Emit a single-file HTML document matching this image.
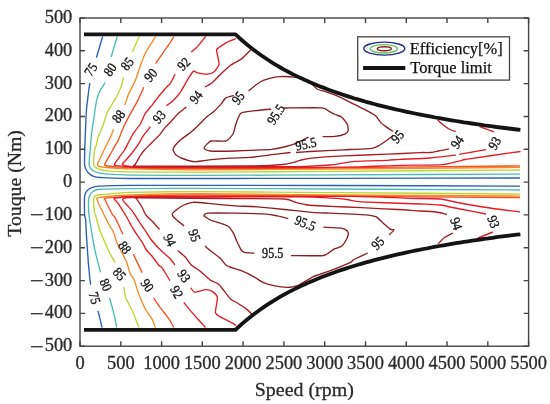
<!DOCTYPE html>
<html><head><meta charset="utf-8"><style>
html,body{margin:0;padding:0;background:#fff;}
svg{display:block;}
text{font-family:"Liberation Serif","DejaVu Serif",serif;}
</style></head><body>
<svg width="550" height="404" viewBox="0 0 550 404">
<rect x="0" y="0" width="550" height="404" fill="#fff"/>

<g fill="none" stroke-width="1.35" stroke-linejoin="round" stroke-linecap="butt">
<path stroke="#2b5fb5" d="M102.6,36.5 L96.4,57.8"/>
<path stroke="#2b5fb5" d="M89.8,83.2C89.6,84.4 88.5,92.2 88.2,94.8C87.9,97.4 86.8,106.4 86.5,109.5C86.2,112.6 85.9,122.4 85.7,125.9C85.5,129.5 85.0,141.2 84.9,145.0C84.8,148.8 84.4,161.3 84.5,163.6C84.6,165.9 85.1,167.3 85.5,168.2C85.9,169.1 87.4,171.9 88.2,172.7C89.0,173.5 92.4,175.9 93.6,176.4C94.8,176.9 96.4,177.3 100.0,177.5C103.6,177.7 107.0,178.4 130.0,178.5C153.0,178.6 291.0,178.4 330.0,178.3C369.0,178.2 501.0,178.0 520.0,178.0"/>
<path stroke="#4cbdb3" d="M117.3,36.5 L111.1,57.0"/>
<path stroke="#4cbdb3" d="M104.9,82.4C104.8,82.7 104.2,84.1 103.7,85.0C103.2,85.9 100.3,89.9 99.6,91.5C98.9,93.1 97.0,98.8 96.4,101.4C95.8,104.0 94.4,114.4 93.9,117.7C93.4,121.0 91.8,131.4 91.5,134.1C91.2,136.8 90.8,142.1 90.6,145.0C90.4,147.9 89.2,161.4 89.1,163.6C89.0,165.8 89.6,166.6 90.0,167.3C90.4,168.0 91.9,170.0 92.7,170.5C93.5,171.0 96.7,172.3 98.2,172.7C99.7,173.1 104.1,174.0 107.3,174.2C110.5,174.4 120.7,175.0 130.0,175.1C139.3,175.2 180.0,175.4 200.0,175.4C220.0,175.4 298.0,175.0 330.0,174.9C362.0,174.8 501.0,174.2 520.0,174.1"/>
<path stroke="#bdd62b" d="M139.2,36.5 L132.4,52.1"/>
<path stroke="#bdd62b" d="M123.4,77.5C123.2,78.2 122.3,83.3 121.7,85.0C121.1,86.7 118.5,93.0 117.6,94.8C116.7,96.6 113.8,101.2 112.7,103.0C111.6,104.8 108.0,110.5 107.0,112.8C106.0,115.1 103.8,123.4 102.9,125.9C102.0,128.4 98.7,135.5 98.0,137.4C97.3,139.3 96.8,143.7 96.4,145.0C96.1,146.3 94.8,148.1 94.5,150.0C94.2,151.9 93.6,162.0 93.6,163.6C93.6,165.2 93.7,165.4 94.1,165.9C94.5,166.4 96.0,168.1 97.3,168.6C98.6,169.1 104.0,170.5 107.3,170.8C110.6,171.1 120.7,171.8 130.0,171.9C139.3,172.0 180.0,172.2 200.0,172.1C220.0,172.0 298.0,171.6 330.0,171.4C362.0,171.2 501.0,170.1 520.0,170.0"/>
<path stroke="#f58a27" d="M155.6,36.5C154.7,38.0 147.7,48.7 146.3,51.3C144.9,53.9 142.4,60.1 141.4,62.7C140.4,65.3 137.3,75.3 136.5,77.5C135.7,79.7 134.0,83.3 133.2,85.0C132.4,86.7 129.2,92.8 128.3,94.8C127.5,96.8 125.1,104.0 124.7,105.0"/>
<path stroke="#f58a27" d="M113.6,129.2C113.3,130.0 111.0,135.9 110.3,137.4C109.6,138.9 107.6,142.7 107.0,144.0C106.4,145.3 105.0,148.0 104.1,150.0C103.2,152.0 98.3,162.0 97.7,163.6C97.1,165.2 97.4,165.5 98.2,165.9C99.0,166.3 102.3,167.2 105.5,167.5C108.7,167.8 120.5,168.6 130.0,168.8C139.4,169.0 180.0,169.8 200.0,169.8C220.0,169.8 298.0,169.2 330.0,169.0C362.0,168.8 501.0,167.6 520.0,167.4"/>
<path stroke="#f3511f" d="M174.0,36.5C173.6,37.1 170.9,41.6 170.0,43.0C169.1,44.4 166.4,47.9 165.0,50.0C163.6,52.1 156.5,62.2 155.6,63.6"/>
<path stroke="#f3511f" d="M143.8,87.3C143.2,88.7 138.8,98.5 137.3,101.4C135.8,104.3 130.6,113.3 129.1,116.1C127.6,118.9 123.7,126.8 122.6,129.2C121.5,131.6 119.4,137.9 118.4,140.0C117.4,142.1 114.0,147.6 112.7,150.0C111.4,152.4 105.7,162.0 105.0,163.6C104.3,165.2 104.4,165.2 105.5,165.5C106.6,165.8 113.0,166.7 116.4,166.9C119.9,167.2 131.6,167.8 140.0,168.0C148.4,168.2 181.0,168.6 200.0,168.6C219.0,168.6 298.0,168.1 330.0,167.8C362.0,167.5 501.0,166.1 520.0,165.9"/>
<path stroke="#e81b26" d="M205.6,36.5C204.8,37.5 199.1,44.8 197.7,46.4C196.3,48.0 191.8,51.5 191.2,52.1"/>
<path stroke="#e81b26" d="M175.1,74.2C174.6,75.2 170.7,82.8 169.9,84.0C169.2,85.2 168.7,84.8 167.6,86.0C166.5,87.2 159.8,95.1 158.6,96.5C157.4,97.9 156.6,99.1 155.9,100.0C155.2,100.9 153.1,103.8 152.1,105.1C151.1,106.4 146.6,111.4 145.7,112.7C144.8,114.0 143.7,116.7 143.2,117.8C142.7,118.9 141.4,122.2 140.6,123.5C139.8,124.8 136.3,129.3 135.5,130.5C134.7,131.7 133.0,133.9 132.4,135.0C131.8,136.1 130.0,139.5 129.2,141.0C128.4,142.5 126.0,147.7 124.5,150.0C123.0,152.3 115.3,162.5 114.5,164.1C113.7,165.7 114.9,165.3 116.4,165.6C118.0,165.8 127.6,166.4 130.0,166.6C132.4,166.8 123.0,167.2 140.0,167.3C157.0,167.4 278.0,167.7 300.0,167.6C322.0,167.5 350.0,167.0 360.0,166.8C370.0,166.6 391.7,165.5 400.0,165.3C408.3,165.1 436.1,165.2 442.6,164.6C449.1,164.0 462.1,160.1 464.9,159.5C467.7,158.9 466.4,159.3 470.9,158.6C475.4,157.9 505.0,153.6 510.0,152.9C515.0,152.2 519.5,151.6 520.5,151.5"/>
<path stroke="#e21b24" d="M236.2,38.5C235.1,39.0 227.6,42.0 225.6,43.1C223.6,44.2 217.4,48.5 216.6,49.6C215.8,50.7 217.2,53.0 217.4,54.5C217.6,56.0 219.3,62.7 219.0,64.4C218.7,66.1 215.2,70.7 214.1,71.7C213.0,72.7 209.2,74.1 207.6,74.2C206.0,74.3 199.1,73.2 197.7,72.9C196.3,72.6 194.6,70.6 193.6,71.2C192.6,71.8 188.8,77.7 187.9,79.1C187.0,80.5 185.4,83.6 184.6,85.0C183.8,86.4 180.8,91.7 179.7,93.2C178.6,94.8 174.5,99.2 173.2,100.5C171.9,101.8 167.1,105.3 166.4,105.8"/>
<path stroke="#e21b24" d="M150.4,126.7C149.6,127.8 143.3,135.7 142.2,137.4C141.1,139.1 140.2,141.5 139.0,143.3C137.8,145.1 131.6,153.5 130.0,155.5C128.4,157.5 123.3,162.6 122.7,163.6C122.1,164.6 121.9,164.9 123.6,165.2C125.3,165.5 122.4,166.7 140.0,166.8C157.6,166.9 280.7,166.8 300.0,166.6C319.3,166.4 327.3,165.2 332.8,164.7C338.3,164.2 349.2,161.8 354.6,161.4C360.1,161.0 382.8,160.5 387.3,160.3C391.8,160.1 395.7,159.5 400.0,159.3C404.3,159.1 424.4,158.4 430.0,158.0C435.6,157.6 453.4,155.4 456.0,155.1"/>
<path stroke="#e21b24" d="M459.1,154.4 L486.0,149.6"/>
<path stroke="#e21b24" d="M494.0,131.8 L479.5,126.7"/>
<path stroke="#ae1c23" d="M251.0,49.5C250.1,50.4 244.0,57.0 241.9,58.6C239.8,60.2 232.5,63.7 230.5,65.2C228.5,66.7 223.3,71.7 221.5,73.4C219.7,75.1 214.1,81.0 212.5,82.4C210.9,83.8 205.8,86.5 205.1,87.0"/>
<path stroke="#ae1c23" d="M186.3,107.1C185.5,107.8 179.6,112.2 178.1,113.6C176.6,115.0 172.8,119.6 171.5,121.0C170.2,122.4 166.1,126.3 165.0,127.6C163.9,128.9 161.6,132.5 160.2,134.1C158.8,135.7 152.6,141.9 151.0,143.5C149.4,145.1 145.6,148.8 144.5,150.0C143.4,151.2 140.7,154.9 140.0,156.0C139.3,157.1 137.8,160.1 137.3,160.9C136.9,161.8 135.2,164.0 135.5,164.5C135.8,165.0 128.6,166.0 140.0,166.2C151.4,166.3 235.7,166.2 250.0,166.0C264.3,165.8 278.3,164.9 282.7,164.5C287.1,164.1 291.9,162.8 293.6,162.4C295.3,162.0 298.3,160.7 300.0,160.3C301.7,159.9 306.5,158.5 310.9,158.1C315.3,157.7 336.1,156.3 343.7,155.9C351.3,155.5 379.7,154.5 387.3,154.2C394.9,153.9 415.7,152.8 420.0,152.6C424.3,152.4 428.1,152.7 430.0,152.5C431.9,152.3 436.8,151.3 438.7,151.0C440.6,150.7 447.9,149.2 448.9,149.0"/>
<path stroke="#ae1c23" d="M455.7,131.5C455.1,131.3 451.0,130.0 450.0,129.5C449.0,129.0 446.4,127.4 445.6,126.8C444.8,126.2 442.6,124.5 441.8,123.8C441.0,123.1 438.1,120.4 437.7,120.0"/>
<path stroke="#8d1e23" d="M248.6,90.9C249.0,90.5 252.0,88.1 253.0,87.3C254.0,86.5 257.1,83.9 258.2,83.2C259.3,82.5 262.9,80.7 264.0,80.2C265.1,79.7 268.1,78.7 269.6,78.3C271.2,77.9 277.0,76.7 279.5,76.6C282.0,76.5 291.8,76.8 294.2,77.1C296.6,77.3 302.2,78.4 304.0,79.1C305.8,79.8 310.9,83.5 312.3,84.5C313.7,85.5 316.6,88.8 318.0,89.5C319.4,90.2 324.1,91.2 326.2,91.9C328.3,92.6 336.5,95.6 339.3,96.8C342.1,98.0 351.1,102.7 354.0,104.2C356.9,105.7 366.5,110.4 368.7,111.6C370.9,112.8 374.7,115.0 375.9,116.1C377.1,117.2 379.7,121.4 380.8,122.6C381.9,123.8 386.2,126.7 387.4,127.6C388.6,128.5 392.4,131.1 393.0,131.5"/>
<path stroke="#8d1e23" d="M393.5,135.3C392.9,135.7 389.4,138.5 388.0,139.5C386.6,140.5 381.6,144.1 380.0,145.0C378.4,145.9 375.6,147.8 372.0,148.3C368.4,148.8 349.9,149.5 343.7,149.8C337.5,150.1 314.8,151.2 310.0,151.5C305.2,151.8 297.4,152.4 296.0,152.5"/>
<path stroke="#8d1e23" d="M290.5,152.5C288.6,152.7 275.9,154.2 271.8,154.7C267.8,155.2 254.2,157.1 250.0,157.4C245.8,157.8 234.4,157.9 230.0,158.2C225.6,158.5 209.5,159.9 206.0,160.3C202.5,160.7 197.2,161.9 195.0,161.8C192.8,161.7 185.9,159.7 184.0,159.0C182.1,158.3 177.1,155.9 176.0,155.0C174.9,154.1 173.1,150.5 173.0,149.5C172.9,148.5 174.7,146.0 175.5,145.0C176.3,144.0 179.6,140.7 181.0,139.5C182.4,138.3 187.8,134.7 189.5,133.3C191.2,131.9 196.1,127.5 197.7,125.9C199.3,124.3 204.3,119.2 205.9,117.7C207.5,116.2 212.6,112.5 214.1,111.2C215.6,109.9 219.4,105.9 220.6,104.6C221.8,103.3 224.3,99.0 225.6,98.1C226.9,97.2 233.1,95.8 233.9,95.6"/>
<path stroke="#8a1e23" d="M284.1,108.0C287.9,108.0 317.6,107.6 322.0,107.9C326.4,108.2 327.3,110.5 328.6,111.2C329.9,111.9 333.7,113.9 335.0,114.5C336.3,115.1 340.3,115.9 341.5,116.9C342.7,117.9 346.6,122.9 347.3,124.3C348.0,125.7 348.4,129.8 348.1,130.8C347.9,131.8 346.1,133.5 344.8,134.1C343.5,134.7 337.2,136.1 335.0,136.3C332.8,136.6 323.9,136.6 322.7,136.6"/>
<path stroke="#8a1e23" d="M308.6,137.1C307.2,137.8 297.0,142.9 294.7,143.8C292.4,144.7 288.3,145.9 286.0,146.5C283.7,147.1 275.4,148.9 271.8,149.3C268.2,149.7 253.7,150.2 250.0,150.4C246.3,150.6 239.0,150.9 235.0,151.0C231.0,151.1 213.1,151.3 210.0,151.0C206.9,150.7 203.9,149.0 204.0,148.0C204.1,147.0 208.8,141.7 211.0,141.0C213.2,140.3 223.8,141.7 226.0,141.0C228.2,140.3 232.0,135.6 233.0,134.0C234.0,132.4 235.0,126.8 235.6,125.0C236.2,123.2 238.5,117.0 239.2,115.7C239.9,114.4 240.0,113.0 242.7,112.4C245.4,111.8 263.2,109.8 266.0,109.5C268.8,109.2 270.6,109.2 271.1,109.2"/>
<path stroke="#2b5fb5" d="M520.0,186.1C501.0,186.0 369.0,185.6 330.0,185.5C291.0,185.4 153.2,185.3 130.0,185.4C106.8,185.5 102.0,186.0 98.2,186.2C94.4,186.4 92.9,187.3 91.8,187.7C90.7,188.1 88.0,189.8 87.3,190.5C86.6,191.2 85.3,193.6 85.0,194.5C84.7,195.4 84.4,197.9 84.4,200.0C84.4,202.1 84.5,213.0 84.6,215.0C84.7,217.0 85.5,217.9 85.7,220.0C85.9,222.1 86.2,232.3 86.5,236.4C86.8,240.5 87.9,257.0 88.2,260.9C88.5,264.8 89.3,272.6 89.5,275.0C89.7,277.4 90.5,283.7 90.6,284.7"/>
<path stroke="#2b5fb5" d="M98.0,310.9 L102.1,327.5"/>
<path stroke="#4cbdb3" d="M520.0,190.0C501.0,189.9 362.0,189.2 330.0,189.0C298.0,188.8 220.0,188.4 200.0,188.4C180.0,188.4 140.2,188.5 130.0,188.6C119.8,188.7 101.9,189.2 98.2,189.5C94.5,189.8 93.6,191.2 92.7,191.8C91.8,192.4 89.9,195.1 89.5,195.9C89.1,196.7 88.7,198.2 88.6,200.0C88.5,201.8 88.6,210.9 88.8,213.4C89.0,215.9 90.2,222.7 90.6,225.0C90.9,227.3 91.8,233.6 92.3,236.4C92.8,239.2 94.7,249.1 95.5,252.7C96.3,256.3 100.0,270.4 100.5,272.4"/>
<path stroke="#4cbdb3" d="M109.5,297.8C109.9,299.3 112.9,309.6 113.6,312.6C114.3,315.6 116.5,326.0 116.8,327.5"/>
<path stroke="#bdd62b" d="M520.0,194.1C501.0,193.9 362.0,192.8 330.0,192.6C298.0,192.3 220.0,191.6 200.0,191.6C180.0,191.6 140.2,192.0 130.0,192.3C119.8,192.6 101.8,194.6 98.2,195.0C94.7,195.4 95.0,196.4 94.5,196.8C94.0,197.2 93.7,198.5 93.6,199.1C93.5,199.7 93.5,201.4 93.6,202.7C93.7,204.0 94.2,210.4 94.5,212.0C94.8,213.6 96.2,217.2 96.7,219.0C97.2,220.8 98.8,227.6 99.6,229.8C100.4,232.0 103.5,239.0 104.5,241.3C105.5,243.6 108.4,250.6 109.5,252.7C110.6,254.8 114.6,261.6 115.2,262.6"/>
<path stroke="#bdd62b" d="M123.9,287.2C124.1,288.3 125.0,295.4 125.8,297.8C126.6,300.2 131.1,307.9 132.4,310.9C133.7,313.9 138.2,325.8 138.9,327.5"/>
<path stroke="#f58a27" d="M520.0,196.1C501.0,196.0 362.0,195.2 330.0,195.0C298.0,194.8 220.0,193.6 200.0,193.6C180.0,193.6 140.2,194.6 130.0,195.0C119.8,195.4 101.5,197.2 98.2,197.7C94.9,198.1 97.3,199.0 97.3,199.5C97.3,200.0 97.7,201.5 98.2,202.7C98.7,203.8 101.7,209.8 102.3,211.0C102.9,212.2 103.5,213.9 104.1,215.0C104.6,216.1 107.3,221.3 107.8,222.3C108.3,223.3 108.7,224.0 109.3,225.0C109.9,226.0 112.9,230.7 113.6,232.4C114.3,234.1 116.1,240.7 116.7,242.3C117.3,243.9 119.2,247.3 119.8,248.5C120.4,249.7 122.2,253.3 122.9,254.7C123.6,256.1 125.9,260.2 126.6,262.1C127.3,264.0 129.6,272.2 130.3,273.9C131.0,275.6 133.1,277.4 134.0,279.5C134.9,281.6 137.8,291.5 138.9,294.5C140.1,297.5 144.2,306.8 145.5,309.3C146.8,311.8 151.0,317.3 152.0,319.1C153.0,320.9 155.0,326.7 155.3,327.5"/>
<path stroke="#f3511f" d="M520.0,197.6C501.0,197.5 362.0,196.5 330.0,196.2C298.0,195.9 220.0,195.0 200.0,195.0C180.0,195.0 139.4,196.0 130.0,196.3C120.5,196.6 108.0,197.9 105.5,198.2C103.0,198.5 104.8,198.9 105.0,199.5C105.2,200.1 106.5,202.9 107.3,204.5C108.1,206.1 112.0,213.8 112.7,215.0C113.4,216.2 113.9,215.7 114.5,216.7C115.1,217.7 117.8,223.2 118.6,225.0C119.4,226.8 122.5,233.4 122.9,234.3"/>
<path stroke="#f3511f" d="M133.4,254.1 L142.1,272.6"/>
<path stroke="#f3511f" d="M153.6,297.8C154.3,298.8 158.9,305.8 160.2,307.6C161.5,309.4 165.7,314.5 166.7,315.8C167.7,317.1 169.3,319.5 170.0,320.7C170.7,321.9 173.5,326.8 173.9,327.5"/>
<path stroke="#e81b26" d="M520.0,212.0C517.0,211.6 496.0,208.9 490.0,208.0C484.0,207.1 465.0,203.9 460.0,203.0C455.0,202.1 445.0,199.5 440.0,199.0C435.0,198.5 419.0,198.6 410.0,198.3C401.0,198.0 377.0,196.6 350.0,196.4C323.0,196.2 163.0,196.4 140.0,196.5C117.0,196.6 122.5,197.3 120.0,197.5C117.5,197.7 115.0,198.0 114.5,198.2C114.0,198.4 114.1,199.0 114.5,199.5C114.9,200.0 117.1,202.0 118.2,203.6C119.3,205.2 124.4,213.2 125.5,215.0C126.6,216.8 128.4,220.1 129.0,221.2C129.6,222.3 130.8,224.9 131.5,226.0C132.2,227.1 134.4,230.9 135.5,232.5C136.6,234.1 141.2,240.6 142.3,242.3C143.4,244.0 145.1,248.2 146.0,249.5C146.9,250.8 150.2,253.9 151.5,255.5C152.8,257.1 157.6,263.8 158.6,265.0C159.6,266.2 161.1,266.6 161.8,267.5C162.5,268.4 165.2,272.7 166.0,274.0C166.8,275.3 169.5,280.0 169.9,280.7"/>
<path stroke="#e81b26" d="M183.8,302.5C184.8,303.7 191.5,311.9 193.7,314.4C195.9,316.9 204.3,326.2 205.5,327.5"/>
<path stroke="#e21b24" d="M486.0,214.0C483.4,213.5 464.6,209.9 460.0,209.0C455.4,208.1 444.0,205.5 440.0,205.0C436.0,204.5 427.9,204.3 420.0,204.0C412.1,203.7 368.7,202.3 361.4,201.9C354.1,201.5 350.4,199.9 346.8,199.5C343.2,199.1 329.7,198.0 325.0,197.7C320.3,197.4 318.5,196.9 300.0,196.8C281.5,196.8 157.5,197.1 140.0,197.2C122.5,197.3 126.7,198.0 125.0,198.2C123.3,198.4 122.8,198.8 122.7,199.1C122.6,199.4 123.0,200.7 123.6,201.4C124.1,202.1 127.3,205.4 128.2,206.4C129.1,207.4 131.6,210.3 132.3,211.2C133.0,212.1 134.3,214.0 135.0,215.0C135.7,216.0 138.1,220.1 139.0,221.5C139.9,222.9 143.3,227.7 144.5,229.5C145.7,231.3 149.6,237.6 151.0,239.5C152.4,241.4 157.5,246.9 159.0,248.5C160.5,250.1 164.9,254.0 166.0,255.0C167.1,256.0 169.1,257.5 170.0,258.5C170.9,259.5 174.4,264.3 174.9,264.9"/>
<path stroke="#e21b24" d="M190.7,287.7C191.1,288.1 193.2,292.0 194.7,292.2C196.2,292.4 203.7,289.8 205.5,289.7C207.3,289.6 211.3,290.8 212.5,291.6C213.7,292.4 217.1,295.5 217.4,297.6C217.7,299.7 215.2,310.5 215.4,312.4C215.6,314.3 218.0,315.5 219.4,316.4C220.8,317.3 227.6,320.4 229.3,321.3C231.0,322.2 235.5,324.9 236.2,325.3"/>
<path stroke="#e21b24" d="M493.0,232.0 L478.0,238.0"/>
<path stroke="#ae1c23" d="M447.0,214.4C445.9,214.2 438.7,212.3 436.0,212.0C433.3,211.7 423.8,211.2 420.0,211.0C416.2,210.8 403.6,209.8 397.7,209.5C391.8,209.2 368.2,208.0 361.4,207.7C354.6,207.4 335.3,206.6 330.0,206.3C324.7,206.0 311.6,205.4 308.2,205.0C304.8,204.6 297.9,202.9 295.5,202.3C293.1,201.7 291.1,199.4 284.5,199.0C277.9,198.6 244.4,198.7 230.0,198.6C215.6,198.5 149.3,197.9 140.0,197.9C130.7,197.9 136.5,197.7 136.5,198.3C136.5,198.9 139.4,203.0 140.0,203.9C140.6,204.8 141.7,206.6 142.3,207.7C142.9,208.8 144.8,213.5 145.9,215.0C147.0,216.5 151.8,220.9 153.2,222.3C154.6,223.8 158.9,228.8 159.5,229.5"/>
<path stroke="#ae1c23" d="M177.7,250.5C178.4,251.1 183.6,255.4 185.0,256.8C186.4,258.2 189.9,263.6 191.4,265.0C192.9,266.4 197.7,269.3 199.6,270.8C201.5,272.3 208.3,278.6 210.2,280.0C212.1,281.4 217.5,283.2 218.9,284.4C220.3,285.6 223.5,290.2 224.7,291.6C225.9,293.1 229.2,297.7 230.5,298.9C231.8,300.1 236.2,302.3 237.8,303.3C239.4,304.3 245.0,307.9 246.5,309.1C248.0,310.3 252.2,314.4 252.8,315.0"/>
<path stroke="#ae1c23" d="M453.0,233.0C452.1,233.5 445.5,236.9 444.0,238.0C442.5,239.1 438.6,243.4 438.0,244.0"/>
<path stroke="#8d1e23" d="M184.1,225.9C183.2,225.2 176.2,219.8 175.0,218.6C173.8,217.4 172.1,215.0 172.3,214.1C172.5,213.2 175.6,210.4 176.8,209.5C178.0,208.6 182.5,205.7 184.1,205.0C185.7,204.3 190.5,202.4 193.2,202.3C195.9,202.2 207.2,203.3 211.4,203.7C215.6,204.1 230.4,205.6 235.0,205.9C239.6,206.2 252.4,206.4 257.3,206.8C262.2,207.2 279.1,208.9 284.5,209.5C289.9,210.1 307.2,211.9 311.8,212.3C316.4,212.7 325.9,213.0 330.0,213.2C334.1,213.4 348.7,213.9 352.3,214.1C355.9,214.3 363.9,214.5 366.3,214.8C368.7,215.1 374.2,215.8 375.9,216.7C377.6,217.6 382.1,222.2 383.5,223.4C384.9,224.6 389.1,228.4 390.2,229.1C391.2,229.8 394.1,229.4 394.0,230.0C393.9,230.6 389.7,234.3 389.2,234.8"/>
<path stroke="#8d1e23" d="M367.7,253.2C366.3,253.8 355.9,258.6 354.1,259.5C352.3,260.4 352.6,261.4 350.0,262.6C347.4,263.8 332.0,270.0 328.3,271.4C324.6,272.8 316.1,275.4 313.0,276.8C309.9,278.2 300.3,284.6 297.7,285.6C295.1,286.7 289.2,287.3 286.8,287.3C284.4,287.3 276.1,286.1 273.7,285.6C271.3,285.1 264.8,283.2 262.8,282.3C260.8,281.4 256.0,277.9 254.0,276.8C252.0,275.7 245.5,272.4 243.1,271.4C240.7,270.4 231.7,267.6 230.0,267.0C228.3,266.4 226.8,265.8 225.9,265.0C225.0,264.2 221.9,260.0 220.5,258.6C219.1,257.2 213.0,252.7 211.4,251.4C209.8,250.1 205.6,246.5 205.0,245.9"/>
<path stroke="#8a1e23" d="M288.2,218.6C287.1,218.3 279.5,216.3 277.3,215.9C275.1,215.5 270.6,214.4 266.4,214.1C262.2,213.8 240.9,213.3 235.0,213.2C229.1,213.1 210.8,212.9 207.7,213.2C204.6,213.5 203.7,215.2 204.1,215.9C204.5,216.6 209.8,219.8 211.4,220.5C213.0,221.2 218.8,222.6 220.5,223.2C222.2,223.8 227.2,225.5 228.5,226.5C229.8,227.5 232.5,231.6 233.4,233.2C234.3,234.8 236.6,240.7 237.3,242.3C238.1,243.9 240.2,248.5 240.9,249.5C241.6,250.5 243.1,251.9 244.5,252.3C245.9,252.7 253.5,253.1 254.5,253.2"/>
<path stroke="#8a1e23" d="M290.9,255.6C294.1,255.6 319.1,256.1 323.4,255.5C327.7,254.8 332.1,250.0 333.9,249.1C335.7,248.2 340.4,247.1 341.5,246.3C342.6,245.5 344.6,242.7 345.3,241.5C346.0,240.3 348.0,235.9 348.2,234.8C348.4,233.8 348.0,231.7 347.3,231.0C346.6,230.3 343.9,228.5 341.5,228.1C339.1,227.7 325.2,227.3 323.4,227.2"/>
</g>
<g font-size="12.6" fill="#111" stroke="#111" stroke-width="0.3" text-anchor="middle">
<text transform="translate(90.7,69.5) rotate(-57) scale(0.96,1.1)" y="4.26">75</text>
<text transform="translate(110.0,69.6) rotate(-54) scale(0.96,1.1)" y="4.26">80</text>
<text transform="translate(127.1,63.9) rotate(-51) scale(0.96,1.1)" y="4.26">85</text>
<text transform="translate(150.6,75.0) rotate(-50) scale(0.96,1.1)" y="4.26">90</text>
<text transform="translate(183.6,63.9) rotate(-45) scale(0.96,1.1)" y="4.26">92</text>
<text transform="translate(118.4,116.3) rotate(-53) scale(0.96,1.1)" y="4.26">88</text>
<text transform="translate(159.1,116.8) rotate(-47) scale(0.96,1.1)" y="4.26">93</text>
<text transform="translate(195.9,97.2) rotate(-53) scale(0.96,1.1)" y="4.26">94</text>
<text transform="translate(238.1,97.9) rotate(-53) scale(0.96,1.1)" y="4.26">95</text>
<text transform="translate(275.9,114.4) rotate(-57) scale(0.96,1.1)" y="4.26">95.5</text>
<text transform="translate(305.9,143.9) rotate(-12) scale(0.96,1.1)" y="4.26">95.5</text>
<text transform="translate(397.5,136.7) rotate(-49) scale(0.96,1.1)" y="4.26">95</text>
<text transform="translate(457.2,142.0) rotate(-55) scale(0.96,1.1)" y="4.26">94</text>
<text transform="translate(494.6,143.1) rotate(-59) scale(0.96,1.1)" y="4.26">93</text>
<text transform="translate(94.7,297.9) rotate(74) scale(0.96,1.1)" y="4.26">75</text>
<text transform="translate(105.9,284.9) rotate(66) scale(0.96,1.1)" y="4.26">80</text>
<text transform="translate(119.6,274.0) rotate(49) scale(0.96,1.1)" y="4.26">85</text>
<text transform="translate(124.9,247.4) rotate(55) scale(0.96,1.1)" y="4.26">88</text>
<text transform="translate(147.4,285.2) rotate(55) scale(0.96,1.1)" y="4.26">90</text>
<text transform="translate(176.9,292.0) rotate(61) scale(0.96,1.1)" y="4.26">92</text>
<text transform="translate(184.1,275.9) rotate(56) scale(0.96,1.1)" y="4.26">93</text>
<text transform="translate(169.9,240.0) rotate(64) scale(0.96,1.1)" y="4.26">94</text>
<text transform="translate(194.6,235.5) rotate(71) scale(0.96,1.1)" y="4.26">95</text>
<text transform="translate(305.3,223.0) rotate(22) scale(0.96,1.1)" y="4.26">95.5</text>
<text transform="translate(272.7,253.8) rotate(0) scale(0.96,1.1)" y="4.26">95.5</text>
<text transform="translate(377.7,243.2) rotate(-45) scale(0.96,1.1)" y="4.26">95</text>
<text transform="translate(456.5,223.7) rotate(71) scale(0.96,1.1)" y="4.26">94</text>
<text transform="translate(493.7,221.8) rotate(68) scale(0.96,1.1)" y="4.26">93</text>
</g>
<polyline fill="none" stroke="#141414" stroke-width="3.8" stroke-linejoin="round" points="84.0,34.4 235.5,34.4 239.6,38.2 243.7,41.8 247.8,45.2 251.9,48.4 255.9,51.5 260.0,54.5 264.1,57.3 268.2,60.0 272.2,62.6 276.3,65.1 280.4,67.5 284.5,69.8 288.6,72.0 292.6,74.1 296.7,76.1 300.8,78.1 304.9,79.9 308.9,81.8 313.0,83.5 317.1,85.2 321.2,86.9 325.3,88.4 329.3,90.0 333.4,91.5 337.5,92.9 341.6,94.3 345.7,95.6 349.7,96.9 353.8,98.2 357.9,99.4 362.0,100.6 366.0,101.8 370.1,102.9 374.2,104.0 378.3,105.1 382.4,106.1 386.4,107.1 390.5,108.1 394.6,109.1 398.7,110.0 402.7,110.9 406.8,111.8 410.9,112.7 415.0,113.5 419.1,114.3 423.1,115.2 427.2,115.9 431.3,116.7 435.4,117.5 439.5,118.2 443.5,118.9 447.6,119.6 451.7,120.3 455.8,121.0 459.8,121.6 463.9,122.3 468.0,122.9 472.1,123.5 476.2,124.1 480.2,124.7 484.3,125.3 488.4,125.8 492.5,126.4 496.5,127.0 500.6,127.5 504.7,128.0 508.8,128.5 512.9,129.0 516.9,129.5 520.4,129.9"/>
<polyline fill="none" stroke="#141414" stroke-width="3.8" stroke-linejoin="round" points="84.0,329.8 235.5,329.8 239.6,326.0 243.7,322.4 247.8,319.0 251.9,315.8 255.9,312.7 260.0,309.7 264.1,306.9 268.2,304.2 272.2,301.6 276.3,299.1 280.4,296.7 284.5,294.4 288.6,292.2 292.6,290.1 296.7,288.1 300.8,286.1 304.9,284.3 308.9,282.4 313.0,280.7 317.1,279.0 321.2,277.3 325.3,275.8 329.3,274.2 333.4,272.7 337.5,271.3 341.6,269.9 345.7,268.6 349.7,267.3 353.8,266.0 357.9,264.8 362.0,263.6 366.0,262.4 370.1,261.3 374.2,260.2 378.3,259.1 382.4,258.1 386.4,257.1 390.5,256.1 394.6,255.1 398.7,254.2 402.7,253.3 406.8,252.4 410.9,251.5 415.0,250.7 419.1,249.9 423.1,249.0 427.2,248.3 431.3,247.5 435.4,246.7 439.5,246.0 443.5,245.3 447.6,244.6 451.7,243.9 455.8,243.2 459.8,242.6 463.9,241.9 468.0,241.3 472.1,240.7 476.2,240.1 480.2,239.5 484.3,238.9 488.4,238.4 492.5,237.8 496.5,237.2 500.6,236.7 504.7,236.2 508.8,235.7 512.9,235.2 516.9,234.7 520.4,234.3"/>
<rect x="80.0" y="18.0" width="448.6" height="328.2" fill="none" stroke="#444" stroke-width="1.4"/>
<path d="M80.0,346.2v-5M80.0,18.0v5M120.8,346.2v-5M120.8,18.0v5M161.6,346.2v-5M161.6,18.0v5M202.3,346.2v-5M202.3,18.0v5M243.1,346.2v-5M243.1,18.0v5M283.9,346.2v-5M283.9,18.0v5M324.7,346.2v-5M324.7,18.0v5M365.5,346.2v-5M365.5,18.0v5M406.3,346.2v-5M406.3,18.0v5M447.0,346.2v-5M447.0,18.0v5M487.8,346.2v-5M487.8,18.0v5M528.6,346.2v-5M528.6,18.0v5M80.0,346.2h5M528.6,346.2h-5M80.0,313.4h5M528.6,313.4h-5M80.0,280.6h5M528.6,280.6h-5M80.0,247.7h5M528.6,247.7h-5M80.0,214.9h5M528.6,214.9h-5M80.0,182.1h5M528.6,182.1h-5M80.0,149.3h5M528.6,149.3h-5M80.0,116.5h5M528.6,116.5h-5M80.0,83.6h5M528.6,83.6h-5M80.0,50.8h5M528.6,50.8h-5M80.0,18.0h5M528.6,18.0h-5" stroke="#444" stroke-width="1.4" fill="none"/>
<g font-size="18.4" fill="#2a2a2a" stroke="#2a2a2a" stroke-width="0.3">
<text transform="translate(80.0,369.2) scale(1,1.0)" text-anchor="middle">0</text>
<text transform="translate(120.8,369.2) scale(1,1.0)" text-anchor="middle">500</text>
<text transform="translate(161.6,369.2) scale(1,1.0)" text-anchor="middle">1000</text>
<text transform="translate(202.3,369.2) scale(1,1.0)" text-anchor="middle">1500</text>
<text transform="translate(243.1,369.2) scale(1,1.0)" text-anchor="middle">2000</text>
<text transform="translate(283.9,369.2) scale(1,1.0)" text-anchor="middle">2500</text>
<text transform="translate(324.7,369.2) scale(1,1.0)" text-anchor="middle">3000</text>
<text transform="translate(365.5,369.2) scale(1,1.0)" text-anchor="middle">3500</text>
<text transform="translate(406.3,369.2) scale(1,1.0)" text-anchor="middle">4000</text>
<text transform="translate(447.0,369.2) scale(1,1.0)" text-anchor="middle">4500</text>
<text transform="translate(487.8,369.2) scale(1,1.0)" text-anchor="middle">5000</text>
<text transform="translate(528.6,369.2) scale(1,1.0)" text-anchor="middle">5500</text>
<text transform="translate(72.3,351.1) scale(1,1.0)" text-anchor="end">500</text>
<text transform="translate(30.1,352.5) scale(1.31,1.0)" stroke-width="0.45">−</text>
<text transform="translate(72.3,318.3) scale(1,1.0)" text-anchor="end">400</text>
<text transform="translate(30.1,319.7) scale(1.31,1.0)" stroke-width="0.45">−</text>
<text transform="translate(72.3,285.5) scale(1,1.0)" text-anchor="end">300</text>
<text transform="translate(30.1,286.9) scale(1.31,1.0)" stroke-width="0.45">−</text>
<text transform="translate(72.3,252.6) scale(1,1.0)" text-anchor="end">200</text>
<text transform="translate(30.1,254.0) scale(1.31,1.0)" stroke-width="0.45">−</text>
<text transform="translate(72.3,219.8) scale(1,1.0)" text-anchor="end">100</text>
<text transform="translate(30.1,221.2) scale(1.31,1.0)" stroke-width="0.45">−</text>
<text transform="translate(72.3,187.0) scale(1,1.0)" text-anchor="end">0</text>
<text transform="translate(72.3,154.2) scale(1,1.0)" text-anchor="end">100</text>
<text transform="translate(72.3,121.4) scale(1,1.0)" text-anchor="end">200</text>
<text transform="translate(72.3,88.5) scale(1,1.0)" text-anchor="end">300</text>
<text transform="translate(72.3,55.7) scale(1,1.0)" text-anchor="end">400</text>
<text transform="translate(72.3,22.9) scale(1,1.0)" text-anchor="end">500</text>
</g>
<text x="304.3" y="396" font-size="19.7" fill="#2a2a2a" stroke="#2a2a2a" stroke-width="0.3" text-anchor="middle" textLength="99" lengthAdjust="spacingAndGlyphs">Speed (rpm)</text>
<text transform="translate(21.0,183.4) rotate(-90)" font-size="19.5" fill="#2a2a2a" stroke="#2a2a2a" stroke-width="0.3" text-anchor="middle" textLength="106.7" lengthAdjust="spacingAndGlyphs">Touque (Nm)</text>
<rect x="357.7" y="36.8" width="151.8" height="43.3" fill="#fff" stroke="#444" stroke-width="1.3"/>
<ellipse cx="384.3" cy="48.6" rx="20.5" ry="6.5" fill="none" stroke="#1f2d8c" stroke-width="1.4"/>
<ellipse cx="383.8" cy="48.8" rx="13.6" ry="4.2" fill="none" stroke="#69c35a" stroke-width="1.4"/>
<ellipse cx="384.3" cy="48.7" rx="7" ry="2" fill="none" stroke="#8c1a1e" stroke-width="1.4"/>
<line x1="363.1" y1="68.0" x2="405.3" y2="68.0" stroke="#141414" stroke-width="4"/>
<text x="409.8" y="54.2" font-size="16.8" fill="#111" stroke="#111" stroke-width="0.25" textLength="92.9" lengthAdjust="spacingAndGlyphs">Efficiency[%]</text>
<text x="410.3" y="73.3" font-size="16.8" fill="#111" stroke="#111" stroke-width="0.25" textLength="81.5" lengthAdjust="spacingAndGlyphs">Torque limit</text>
</svg></body></html>
